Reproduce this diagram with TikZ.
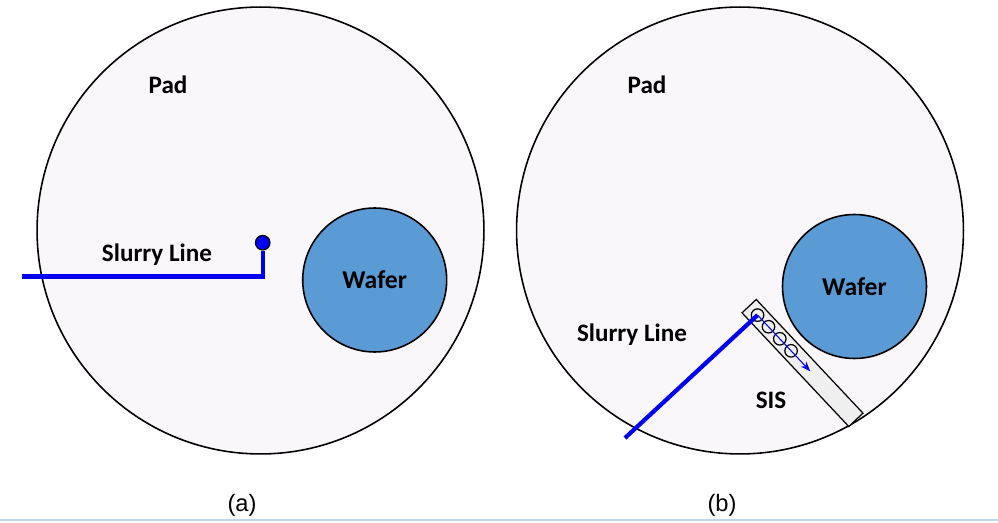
\documentclass[tikz,border=0pt]{standalone}
\usepackage{fontspec}
\setmainfont{Carlito}
\newfontfamily\capfont{Liberation Sans}
\usetikzlibrary{calc, arrows.meta, positioning}

\definecolor{padfill}{HTML}{F9F7F9}
\definecolor{waferblue}{HTML}{5B9BD5}
\definecolor{slurry}{HTML}{0000F0}
\definecolor{sisfill}{HTML}{EFEFEF}
\definecolor{rulecol}{HTML}{BDD7EE}

\tikzset{
  pad/.style={circle, draw, line width=0.9pt, fill=padfill, minimum size=8.94cm, inner sep=0pt},
  wafer/.style={circle, draw, line width=0.9pt, fill=waferblue, minimum size=2.88cm, inner sep=0pt,
    font=\fontsize{14.6}{16}\selectfont\bfseries},
  tag/.style={font=\fontsize{14.3}{16}\selectfont\bfseries},
  caption/.style={font=\capfont\fontsize{13.5}{16}\selectfont},
  slurryline/.style={slurry, line width=2.4pt},
  hole/.style={circle, draw, line width=0.7pt, minimum size=0.25cm, inner sep=0pt},
}

\begin{document}
\begin{tikzpicture}[x=0.02cm, y=-0.02cm, >=Stealth]
    \useasboundingbox (0,0) rectangle (998,523);
    \fill[white] (0,0) rectangle (998,523);

    % --- Bottom rule ---
    \fill[rulecol] (0,519) rectangle (998,521.5);

    % --- (a) pad, wafer and slurry line ---
    \node[pad] (padA) at (260.5,230.5) {};
    \node[wafer] (waferA) at (374.7,280) {Wafer};
    \node[tag] (padlabelA) at (168,85) {Pad};
    \node[tag] (slurrylabelA) at (157,255) {Slurry Line};

    \coordinate (feedA) at (22,276.5);
    \coordinate (bendA) at (262.7,276.5);
    \node[circle, fill=slurry, draw=black, line width=0.7pt, minimum size=0.29cm, inner sep=0pt]
      (nozzleA) at (262.7,242.7) {};
    \draw[slurryline] (feedA) -- (bendA) -- (nozzleA.south);

    \node[caption] (capA) at (242,505) {(a)};

    % --- (b) pad, wafer, SIS and slurry line ---
    \node[pad] (padB) at (740,230.5) {};
    \node[wafer] (waferB) at (854.5,286.5) {Wafer};
    \node[tag] (padlabelB) at (647,85) {Pad};
    \node[tag] (slurrylabelB) at (632,335) {Slurry Line};

    \node[draw, line width=0.7pt, fill=sisfill, rotate=-46.8, minimum width=3.12cm,
      minimum height=0.39cm, inner sep=0pt] (sis) at (802.5,363) {};
    \node[tag] (sislabel) at (771,400) {SIS};

    % --- Holes along the SIS ---
    \foreach \t [count=\i] in {12.5,28.5,45,61.5}
      \node[hole] (hole\i) at ($(749,306)+\t*(0.684,0.729)$) {};

    \draw[slurry, line width=0.6pt, ->] (hole1.center) -- ($(749,306)+89.6*(0.684,0.729)$);

    \coordinate (feedB) at (625,438);
    \draw[slurryline] (feedB) -- (hole1.center);

    \node[caption] (capB) at (722,505) {(b)};
\end{tikzpicture}
\end{document}
